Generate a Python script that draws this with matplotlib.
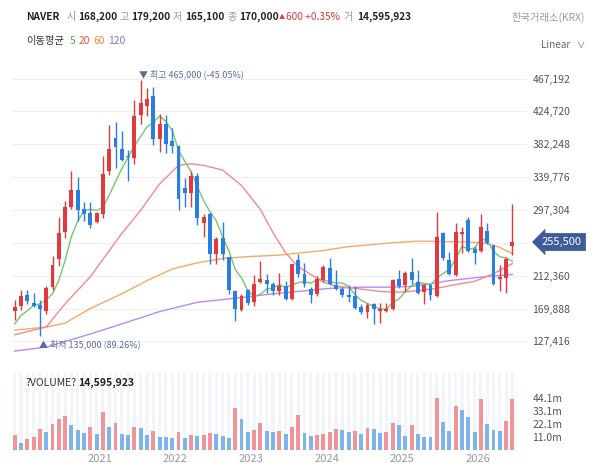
import numpy as np
import pandas as pd
import matplotlib
matplotlib.use("Agg")
import matplotlib.pyplot as plt

plt.rcParams['font.family'] = ['Noto Sans CJK KR', 'DejaVu Sans']

# monthly candles, Nov 2019 .. Jun 2026
months = pd.date_range("2019-11-01", periods=80, freq="MS")

opens = [166100, 172600, 186900, 176900, 173900, 166100, 197700, 233700, 269200, 301600,
         323300, 298200, 293000, 282100, 292100, 347100, 390000, 376500, 367500, 364400,
         419800, 431500, 444500, 389500, 408600, 386900, 380400, 325900, 319800, 341500,
         280900, 292100, 240100, 260500, 236700, 192100, 168300, 193400, 178200, 204200,
         207200, 202000, 192500, 198600, 182100, 232400, 215000, 195500, 189100, 207200,
         222800, 199900, 194700, 187300, 185600, 171700, 165200, 176100, 166500, 166500,
         168700, 207700, 199900, 217200, 204200, 191200, 199900, 185600, 267900, 233200,
         212900, 266100, 284300, 247500, 244500, 270500, 251800, 208500, 209800, 251000]
highs = [181300, 193400, 193400, 189900, 180400, 198600, 237600, 288600, 309400, 348000,
         339700, 308100, 307300, 295100, 366600, 406900, 411600, 399900, 375200, 438900,
         465000, 455300, 456200, 422000, 420700, 403400, 381700, 338400, 347100, 344900,
         292100, 295100, 262700, 281300, 236700, 193400, 189100, 195500, 212900, 231500,
         215000, 204200, 216300, 205500, 228000, 241000, 229300, 197700, 212000, 225900,
         235800, 220200, 197700, 199900, 198600, 176100, 177400, 176900, 176900, 177400,
         208500, 220200, 218500, 235800, 219400, 202000, 201200, 295100, 269200, 243200,
         280000, 275700, 287800, 250500, 292100, 280000, 251800, 226700, 236700, 305100]
lows = [155300, 168300, 176100, 171700, 135000, 162200, 193400, 225000, 261400, 298600,
        282600, 283400, 273500, 280000, 286500, 342800, 351400, 360100, 335400, 356600,
        409000, 418500, 381700, 371800, 370900, 370900, 297300, 301600, 301600, 277800,
        262700, 227200, 228000, 232400, 189100, 154400, 166500, 173900, 172600, 202900,
        190400, 186900, 186900, 180400, 181300, 210700, 197700, 176900, 185600, 204200,
        199900, 194300, 184700, 178200, 168700, 163100, 157900, 150100, 151000, 165200,
        167400, 196800, 191200, 202000, 189100, 175200, 181300, 184700, 233200, 213700,
        212000, 241900, 243200, 227200, 243200, 253100, 199900, 192500, 190400, 238800]
closes = [171700, 186500, 179500, 173000, 169100, 196800, 225900, 267000, 301600, 323300,
          297300, 291700, 277800, 293000, 343600, 376500, 378700, 362300, 365300, 419400,
          435900, 441100, 389500, 409000, 383000, 379600, 311200, 319000, 341500, 286500,
          288600, 240100, 259600, 240100, 193400, 169100, 185600, 176900, 202000, 208500,
          202000, 192500, 199400, 182100, 227200, 215000, 201200, 186900, 208500, 223700,
          201200, 194700, 186900, 184700, 170900, 165200, 173900, 168700, 168700, 169600,
          206400, 198600, 216300, 206400, 190400, 200700, 186900, 262700, 235800, 215000,
          269200, 269200, 244500, 242300, 275700, 254900, 201200, 210700, 233700, 255500]
# volume in millions of shares
volumes = [12.4, 5.8, 8.7, 10.9, 17.5, 14.7, 21.8, 26.1, 28.4, 20.9,
           16.9, 13.8, 19.0, 13.3, 32.3, 19.5, 22.7, 13.0, 12.4, 19.0,
           18.1, 12.4, 16.1, 10.9, 10.8, 9.6, 15.2, 9.6, 12.4, 11.8,
           12.1, 13.8, 13.0, 11.8, 10.1, 35.2, 25.8, 15.2, 16.7, 22.4,
           16.1, 14.7, 16.1, 13.0, 19.0, 29.5, 13.8, 11.8, 12.4, 13.0,
           14.7, 17.5, 16.7, 14.7, 16.1, 13.0, 18.4, 17.5, 13.8, 14.7,
           22.4, 20.9, 11.5, 20.9, 13.0, 10.9, 10.4, 43.7, 23.8, 16.1,
           37.2, 33.5, 27.5, 15.2, 42.9, 21.5, 16.7, 16.1, 24.6, 42.9]

# moving averages (longer ones need history before the window)
ma5_head = [150000, 161000, 167000, 174000]
ma20_idx = [0, 5, 8, 12, 17, 20, 23, 26, 28, 30, 33, 36, 39, 41, 43, 45, 47, 49, 51, 55,
            58, 61, 64, 67, 70, 73, 76, 79]
ma20_val = [136000, 146000, 176000, 211000, 267000, 297000, 331000, 355000, 357000, 355000,
            349000, 329000, 298000, 268000, 242000, 224000, 214000, 204000, 199000, 195000,
            192000, 191000, 193000, 196000, 201000, 205000, 215000, 228000]
ma60_idx = [0, 5, 8, 12, 17, 21, 25, 29, 33, 37, 42, 45, 49, 53, 56, 60, 64, 68, 72, 75, 77, 79]
ma60_val = [142000, 146000, 151000, 170000, 189000, 206000, 221000, 229000, 234500, 237000,
            239000, 241500, 245000, 250000, 252000, 255000, 257000, 256500, 256000, 254000,
            249000, 241000]
ma120_idx = [0, 5, 12, 17, 23, 29, 33, 37, 41, 45, 50, 55, 59, 63, 66, 69, 74, 79]
ma120_val = [115000, 120000, 137000, 150000, 166000, 178000, 181500, 185000, 189000, 192000,
             196000, 197500, 197500, 198500, 202000, 206000, 210500, 214000]

price_ticks = [42472 * k for k in range(3, 12)]
vol_ticks = [11.025 * k for k in range(1, 5)]

RED = "#e3383c"
BLUE = "#2a7de1"

W, H = 600, 474
fig = plt.figure(figsize=(W / 100, H / 100), dpi=100)


def px_text(x, y, s, **kw):
    kw.setdefault("va", "center")
    return fig.text(x / W, 1 - y / H, s, **kw)


# ---- price panel
ax = fig.add_axes([12 / W, (H - 355) / H, 515 / W, 293 / H])
idx = np.arange(len(closes))
o = np.array(opens)
c = np.array(closes)
up = c >= o
colors = np.where(up, RED, BLUE)

ma5 = pd.Series(c, dtype=float).rolling(5).mean().values
ma5[:4] = ma5_head

ax.plot(ma120_idx, ma120_val, color="#b98af0", lw=1, zorder=2)
ax.plot(ma60_idx, ma60_val, color="#f5aa6a", lw=1, zorder=2)
ax.plot(ma20_idx, ma20_val, color="#f28b8f", lw=1, zorder=2)
ax.plot(idx, ma5, color="#72c972", lw=1, zorder=2)

ax.vlines(idx, lows, highs, color=colors, lw=1, zorder=3)
body = np.maximum(np.abs(c - o), 1400)
ax.bar(idx, body, bottom=np.minimum(o, c), width=0.62, color=colors, zorder=4)

ax.set_xlim(-0.43, 81.32)
ax.set_ylim(109819, 488668)
ax.set_yticks(price_ticks)
ax.set_yticklabels(["" if v == 42472 * 6 else f"{v:,}" for v in price_ticks])
ax.yaxis.tick_right()
ax.tick_params(axis="y", length=0, pad=4, labelsize=7.5, labelcolor="#555555")
ax.set_xticks([])
ax.grid(axis="y", color="#efefef", lw=0.8)
ax.set_axisbelow(True)
for sp in ax.spines.values():
    sp.set_visible(False)

# current price tag
px_text(542, 242, f"{closes[-1]:,}", color="white", fontsize=8, ha="left",
        bbox=dict(boxstyle="larrow,pad=0.35", fc="#3f5b9b", ec="none"))

# high / low markers
px_text(139, 74, "▼ 최고 465,000 (-45.05%)", color="#5b6c9c", fontsize=6.5, ha="left")
px_text(39, 344, "▲ 최저 135,000 (89.26%)", color="#5b6c9c", fontsize=6.5, ha="left")

# ---- volume panel
ax2 = fig.add_axes([12 / W, (H - 449.5) / H, 515 / W, (449.5 - 372.7) / H])
v = np.array(volumes)
vcol = ["#f0949a"] + ["#f0949a" if v[i] > v[i - 1] else "#7fb3ec" for i in range(1, len(v))]
ax2.bar(idx, 65.7, width=0.5, color="#f4f5fa", zorder=1)
ax2.bar(idx, v, width=0.62, color=vcol, zorder=2)
ax2.set_xlim(-0.43, 81.32)
ax2.set_ylim(0, 65.7)
ax2.set_yticks(vol_ticks)
ax2.set_yticklabels([f"{t:.1f}m" for t in vol_ticks])
ax2.yaxis.tick_right()
ax2.tick_params(axis="y", length=0, pad=4, labelsize=7.5, labelcolor="#555555")

year_pos = [i - 0.5 for i, m in enumerate(months) if m.month == 1 and m.year >= 2021]
ax2.set_xticks(year_pos)
ax2.set_xticklabels([str(months[int(p + 0.5)].year) for p in year_pos])
ax2.tick_params(axis="x", length=0, pad=3, labelsize=8, labelcolor="#999999")
for sp in ax2.spines.values():
    sp.set_visible(False)

px_text(26, 383, "?VOLUME?", color="#333333", fontsize=7.5, ha="left")
px_text(78, 383, "14,595,923", color="#222222", fontsize=7.5, ha="left", fontweight="bold")

# ---- header
hy = 17
fs = 7.3
px_text(26, hy, "NAVER", color="#222222", fontsize=fs, fontweight="bold", ha="left")
header = [(67, "시", 78, "168,200"), (119, "고", 131, "179,200"),
          (173, "저", 185, "165,100"), (228, "종", 239, "170,000")]
for lx, lab, nx, num in header:
    px_text(lx, hy, lab, color="#999999", fontsize=fs, ha="left")
    px_text(nx, hy, num, color="#222222", fontsize=fs, fontweight="bold", ha="left")
px_text(279, hy, "▲", color=RED, fontsize=4.5, ha="left")
px_text(286, hy, "600 +0.35%", color=RED, fontsize=fs, ha="left")
px_text(344, hy, "거", color="#999999", fontsize=fs, ha="left")
px_text(357, hy, "14,595,923", color="#222222", fontsize=fs, fontweight="bold", ha="left")
px_text(585, hy, "한국거래소(KRX)", color="#999999", fontsize=7.4, ha="right")

ly = 41
px_text(26, ly, "이동평균", color="#333333", fontsize=7.4, ha="left")
px_text(70, ly, "5", color="#4caf50", fontsize=7.4, ha="left")
px_text(79, ly, "20", color="#ef5350", fontsize=7.4, ha="left")
px_text(93, ly, "60", color="#f08a3a", fontsize=7.4, ha="left")
px_text(108, ly, "120", color="#8a6cf0", fontsize=7.4, ha="left")
px_text(570, 45, "Linear", color="#666666", fontsize=7.2, ha="right")
px_text(576, 45, "∨", color="#666666", fontsize=6, ha="left")

fig.savefig("out.png", dpi=100, facecolor="white")
